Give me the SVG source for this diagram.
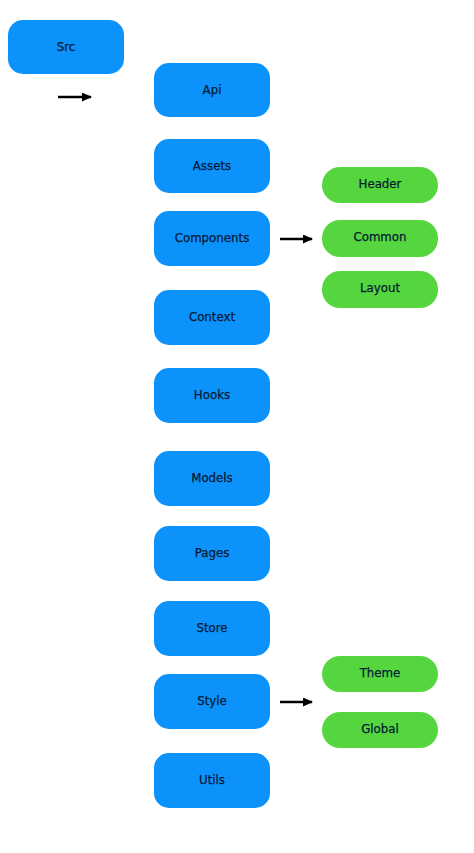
<svg xmlns="http://www.w3.org/2000/svg" width="474" height="853" viewBox="0 0 474 853">
<defs>
<style>
.b{fill:#0b92fb}
.g{fill:#55d63f}
text{font-family:"DejaVu Sans",sans-serif;font-size:11.8px;fill:#061a33;text-anchor:middle;dominant-baseline:central;stroke:#061a33;stroke-width:0.25}
.c line{stroke:#000;stroke-width:2.5}
</style>
<marker id="ah" markerWidth="10" markerHeight="9" refX="9" refY="4.5" orient="auto" markerUnits="userSpaceOnUse">
<path d="M0,0 L10,4.5 L0,9 Z" fill="#000"/>
</marker>
</defs>
<rect width="474" height="853" fill="#fff"/>
<g class="c">
<line x1="58" y1="97" x2="91" y2="97" marker-end="url(#ah)"/>
<line x1="280" y1="239" x2="312" y2="239" marker-end="url(#ah)"/>
<line x1="280" y1="702" x2="312" y2="702" marker-end="url(#ah)"/>
</g>
<g id="src"><rect class="b" x="8" y="20" width="116" height="54" rx="15"/><text x="66" y="47">Src</text></g>
<g id="api"><rect class="b" x="154" y="63" width="116" height="54" rx="15"/><text x="212" y="90">Api</text></g>
<g id="assets"><rect class="b" x="154" y="139" width="116" height="54" rx="15"/><text x="212" y="166">Assets</text></g>
<g id="components"><rect class="b" x="154" y="211" width="116" height="55" rx="15"/><text x="212" y="238">Components</text></g>
<g id="context"><rect class="b" x="154" y="290" width="116" height="55" rx="15"/><text x="212" y="317">Context</text></g>
<g id="hooks"><rect class="b" x="154" y="368" width="116" height="55" rx="15"/><text x="212" y="395">Hooks</text></g>
<g id="models"><rect class="b" x="154" y="451" width="116" height="55" rx="15"/><text x="212" y="478">Models</text></g>
<g id="pages"><rect class="b" x="154" y="526" width="116" height="55" rx="15"/><text x="212" y="553">Pages</text></g>
<g id="store"><rect class="b" x="154" y="601" width="116" height="55" rx="15"/><text x="212" y="628">Store</text></g>
<g id="style"><rect class="b" x="154" y="674" width="116" height="55" rx="15"/><text x="212" y="701">Style</text></g>
<g id="utils"><rect class="b" x="154" y="753" width="116" height="55" rx="15"/><text x="212" y="780">Utils</text></g>
<g id="header"><rect class="g" x="322" y="167" width="116" height="36" rx="18"/><text x="380" y="184">Header</text></g>
<g id="common"><rect class="g" x="322" y="220" width="116" height="37" rx="18"/><text x="380" y="237">Common</text></g>
<g id="layout"><rect class="g" x="322" y="271" width="116" height="37" rx="18"/><text x="380" y="288">Layout</text></g>
<g id="theme"><rect class="g" x="322" y="656" width="116" height="36" rx="18"/><text x="380" y="673">Theme</text></g>
<g id="global"><rect class="g" x="322" y="712" width="116" height="36" rx="18"/><text x="380" y="729">Global</text></g>
</svg>
